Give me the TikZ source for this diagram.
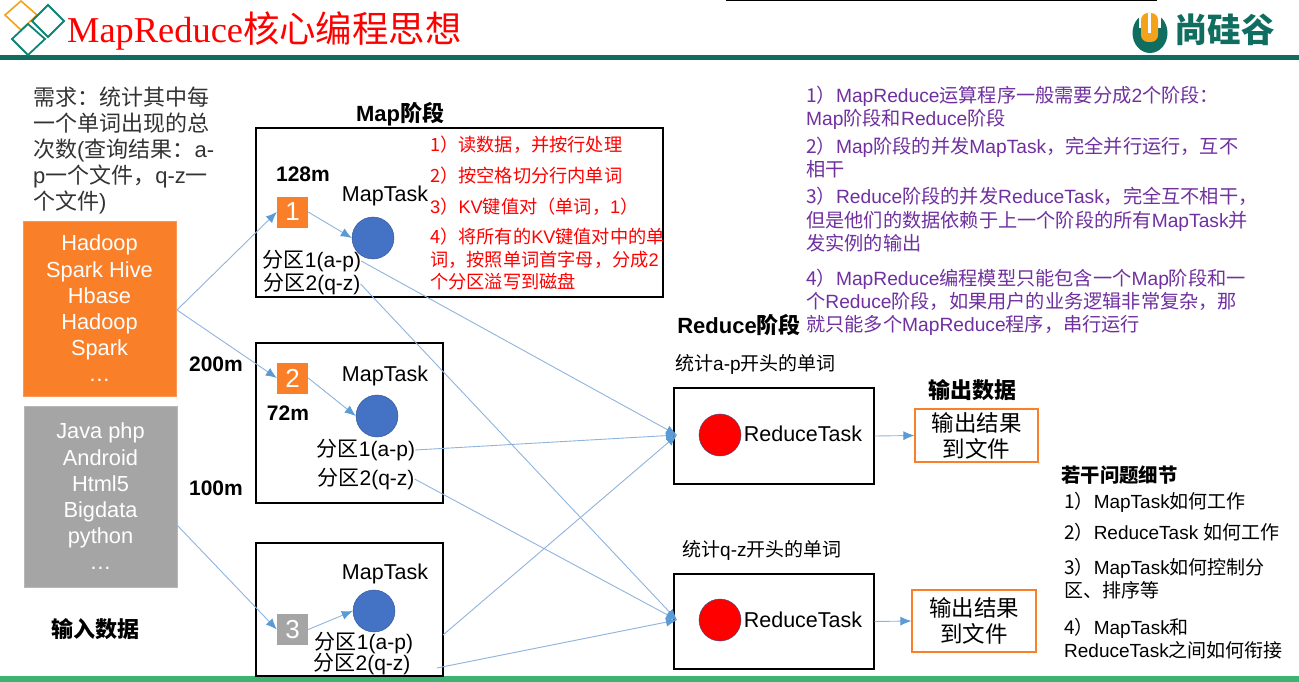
\documentclass[tikz,border=0pt]{standalone}
\usepackage{fontspec}
\setmainfont{Liberation Sans}
\newfontfamily\cjk{Noto Sans CJK SC}
\newfontfamily\titlefont{Liberation Serif}
\newcommand{\zh}[1]{{\cjk #1}}
\usetikzlibrary{arrows.meta}
\definecolor{rulegreen}{HTML}{0F6E5F}
\definecolor{bandgreen}{HTML}{3CB371}
\definecolor{boxorange}{HTML}{F98028}
\definecolor{boxgray}{HTML}{A5A5A5}
\definecolor{linkblue}{HTML}{8FB4DD}
\definecolor{tipblue}{HTML}{5B9BD5}
\definecolor{taskblue}{HTML}{4472C4}
\definecolor{taskedge}{HTML}{2F528F}
\definecolor{notepurple}{HTML}{7030A0}
\definecolor{logoorange}{HTML}{F2A31B}
\begin{document}
\begin{tikzpicture}[x=1pt,y=-1pt,
		txt/.style={anchor=north west, inner sep=0pt, align=left},
		input/.style={draw=#1!80!white, fill=#1, inner sep=0pt, text=white, align=center, font=\fontsize{21.8}{26.2}\selectfont},
		stage/.style={draw, line width=1.3pt, inner sep=0pt},
		split/.style={draw=none, fill=#1, minimum size=31pt, inner sep=0pt, text=white, font=\fontsize{26}{26}\selectfont},
		task/.style={circle, draw=taskedge, fill=#1, minimum size=42pt, inner sep=0pt},
		result/.style={draw=boxorange, line width=1.2pt, inner sep=0pt, align=center, font=\fontsize{22.5}{26}\selectfont},
		link/.style={draw=linkblue, line width=0.9pt, -{Latex[length=11pt,width=9pt,color=tipblue]}},
		label/.style={anchor=center, inner sep=0pt, font=\fontsize{21}{24}\selectfont},
		size/.style={anchor=center, inner sep=0pt, font=\bfseries\fontsize{21}{22}\selectfont},
		head/.style={anchor=center, inner sep=0pt, font=\bfseries\fontsize{22}{24}\selectfont}
		]
		\useasboundingbox (0,0) rectangle (1299,682);
		\fill[white] (0,0) rectangle (1299,682);
		% title bar
		\draw[line width=1.5pt] (726,0) -- (1157,0);
		\fill[rulegreen] (0,55) rectangle (1299,60);
		\fill[bandgreen] (0,676) rectangle (1299,682);
		\draw[logoorange, line width=1.6pt] (21,1) -- (37,15) -- (21,30) -- (5,15) -- cycle;
		\draw[rulegreen!85!cyan, line width=1.8pt] (48,5) -- (64,21) -- (48,37) -- (32,21) -- cycle;
		\draw[rulegreen!85!cyan, line width=1.8pt] (28,24) -- (45,39) -- (28,55) -- (12,39) -- cycle;
		\node[anchor=base west, inner sep=0pt, text=red, font=\fontsize{36.4}{40}\selectfont] (title) at (67,43) {\titlefont MapReduce\zh{核心编程思想}};
		\fill[rulegreen] (1150,33) ellipse (17.5 and 20);
		\fill[white] (1139,11) rectangle (1161,28);
		\fill[logoorange, rounded corners=7pt] (1141,13) rectangle (1158,42);
		\fill[white] (1148,13) rectangle (1151,33);
		\node[anchor=west, inner sep=0pt, text=rulegreen, font=\bfseries\fontsize{33.5}{34}\selectfont] (brand) at (1174,30) {\zh{尚硅谷}};

		% input data
		\node[txt, font=\fontsize{22}{25.8}\selectfont, text=black!80] (need) at (33,87) {\zh{需求：统计其中每}\\\zh{一个单词出现的总}\\\zh{次数}(\zh{查询结果：}a-\\p\zh{一个文件，}q-z\zh{一}\\\zh{个文件})};
		\node[input=boxorange, minimum width=153pt, minimum height=175pt] (I1) at (99.5,308.5) {Hadoop\\Spark Hive\\Hbase\\Hadoop\\Spark\\\ldots};
		\node[input=boxgray, minimum width=153pt, minimum height=181pt] (I2) at (100.5,496.5) {Java php\\Android\\Html5\\Bigdata\\python\\\ldots};
		\node[head] (inputhead) at (95,629) {\zh{输入数据}};

		% map stage
		\node[head] (maphead) at (400,114) {Map\zh{阶段}};
		\node[stage, minimum width=407pt, minimum height=169pt] (M1) at (459.5,212.5) {};
		\node[stage, minimum width=187pt, minimum height=160pt] (M2) at (349.5,423) {};
		\node[stage, minimum width=187pt, minimum height=133pt] (M3) at (349.5,609.5) {};
		\node[size] (s128) at (303,174) {128m};
		\node[size] (s200) at (216,364) {200m};
		\node[size] (s72) at (288,413) {72m};
		\node[size] (s100) at (216,488) {100m};
		\node[split=boxorange] (S1) at (292.5,212) {1};
		\node[split=boxorange] (S2) at (292.5,378) {2};
		\node[split=boxgray] (S3) at (292.5,629.5) {3};
		\node[task=taskblue] (T1) at (373,238) {};
		\node[task=taskblue] (T2) at (377,416) {};
		\node[task=taskblue] (T3) at (374,611) {};
		\node[label, font=\fontsize{21.5}{24}\selectfont] (N1) at (385,196) {MapTask};
		\node[label, font=\fontsize{21.5}{24}\selectfont] (N2) at (385,376) {MapTask};
		\node[label, font=\fontsize{21.5}{24}\selectfont] (N3) at (385,574) {MapTask};
		\node[label] (A1) at (312,261) {\zh{分区}1(a-p)};
		\node[label] (B1) at (312,284) {\zh{分区}2(q-z)};
		\node[label] (A2) at (366,450) {\zh{分区}1(a-p)};
		\node[label] (B2) at (366,479) {\zh{分区}2(q-z)};
		\node[label] (A3) at (364,643) {\zh{分区}1(a-p)};
		\node[label] (B3) at (362,664) {\zh{分区}2(q-z)};
		\node[txt, text=red, font=\fontsize{18.2}{22}\selectfont] (stepsa) at (430,136) {\zh{1）读数据，并按行处理}};
		\node[txt, text=red, font=\fontsize{18.2}{22}\selectfont] (stepsb) at (430,167) {\zh{2）按空格切分行内单词}};
		\node[txt, text=red, font=\fontsize{18.2}{22}\selectfont] (stepsc) at (430,198) {3\zh{）}KV\zh{键值对（单词，}1\zh{）}};
		\node[txt, text=red, font=\fontsize{18.2}{22.5}\selectfont] (stepsd) at (430,228) {\zh{4）将所有的}KV\zh{键值对中的单}\\\zh{词，按照单词首字母，分成}2\\\zh{个分区溢写到磁盘}};

		% reduce stage
		\node[head] (reducehead) at (739,325) {Reduce\zh{阶段}};
		\node[txt, font=\fontsize{19}{22}\selectfont] (ra) at (675,354) {\zh{统计}a-p\zh{开头的单词}};
		\node[txt, font=\fontsize{19}{22}\selectfont] (rb) at (682,540) {\zh{统计}q-z\zh{开头的单词}};
		\node[stage, minimum width=200pt, minimum height=96pt] (R1) at (774,436) {};
		\node[stage, minimum width=200pt, minimum height=95pt] (R2) at (774,621.5) {};
		\node[task=red] (C1) at (720,435) {};
		\node[task=red] (C2) at (720,620) {};
		\node[label, font=\fontsize{21.5}{24}\selectfont] (L1) at (803,434) {ReduceTask};
		\node[label, font=\fontsize{21.5}{24}\selectfont] (L2) at (803,620) {ReduceTask};
		\node[head] (outhead) at (972,390) {\zh{输出数据}};
		\node[result, minimum width=123pt, minimum height=53pt] (O1) at (976.5,435.5) {\zh{输出结果}\\\zh{到文件}};
		\node[result, minimum width=124pt, minimum height=62pt] (O2) at (974,621) {\zh{输出结果}\\\zh{到文件}};

		% notes on the right
		\node[txt, text=notepurple, font=\fontsize{19.2}{22.5}\selectfont] (pa) at (806,86) {\zh{1）}MapReduce\zh{运算程序一般需要分成}2\zh{个阶段：}\\Map\zh{阶段和}Reduce\zh{阶段}};
		\node[txt, text=notepurple, font=\fontsize{19.2}{22.5}\selectfont] (pb) at (806,137) {\zh{2）}Map\zh{阶段的并发}MapTask\zh{，完全并行运行，互不}\\\zh{相干}};
		\node[txt, text=notepurple, font=\fontsize{19.2}{23.5}\selectfont] (pc) at (806,187) {\zh{3）}Reduce\zh{阶段的并发}ReduceTask\zh{，完全互不相干，}\\\zh{但是他们的数据依赖于上一个阶段的所有}MapTask\zh{并}\\\zh{发实例的输出}};
		\node[txt, text=notepurple, font=\fontsize{19.2}{23}\selectfont] (pd) at (806,269) {\zh{4）}MapReduce\zh{编程模型只能包含一个}Map\zh{阶段和一}\\\zh{个}Reduce\zh{阶段，如果用户的业务逻辑非常复杂，那}\\\zh{就只能多个}MapReduce\zh{程序，串行运行}};
		\node[head, anchor=west, font=\bfseries\fontsize{19.4}{22}\selectfont] (qhead) at (1061,475) {\zh{若干问题细节}};
		\node[txt, font=\fontsize{19}{22}\selectfont] (qa) at (1064,492) {\zh{1）}MapTask\zh{如何工作}};
		\node[txt, font=\fontsize{19}{22}\selectfont] (qb) at (1064,523) {\zh{2）}ReduceTask \zh{如何工作}};
		\node[txt, font=\fontsize{19}{23}\selectfont] (qc) at (1064,558) {\zh{3）}MapTask\zh{如何控制分}\\\zh{区、排序等}};
		\node[txt, font=\fontsize{19}{23}\selectfont] (qd) at (1064,618) {\zh{4）}MapTask\zh{和}\\ReduceTask\zh{之间如何衔接}};

		% connectors
		\coordinate (I1out) at (177,310);
		\coordinate (I2out) at (177,525);
		\coordinate (A3out) at (443,635);
		\coordinate (B3out) at (437,668);
		\coordinate (R1in) at (677,435);
		\coordinate (R2in) at (677,620);
		\draw[link] (I1out) -- (S1.west);
		\draw[link] (I1out) -- (S2.west);
		\draw[link] (I2out) -- (S3.west);
		\draw[link] (S1.east) -- (T1.west);
		\draw[link] (S2.east) -- (T2.west);
		\draw[link] (S3.east) -- (T3.west);
		\draw[link] (A1.east) -- (R1in);
		\draw[link] (B1.east) -- (R2in);
		\draw[link] (A2.east) -- (R1in);
		\draw[link] (B2.east) -- (R2in);
		\draw[link] (A3out) -- (R1in);
		\draw[link] (B3out) -- (R2in);
		\draw[link] (R1.east) -- (O1.west);
		\draw[link] (R2.east) -- (O2.west);
	\end{tikzpicture}
\end{document}
